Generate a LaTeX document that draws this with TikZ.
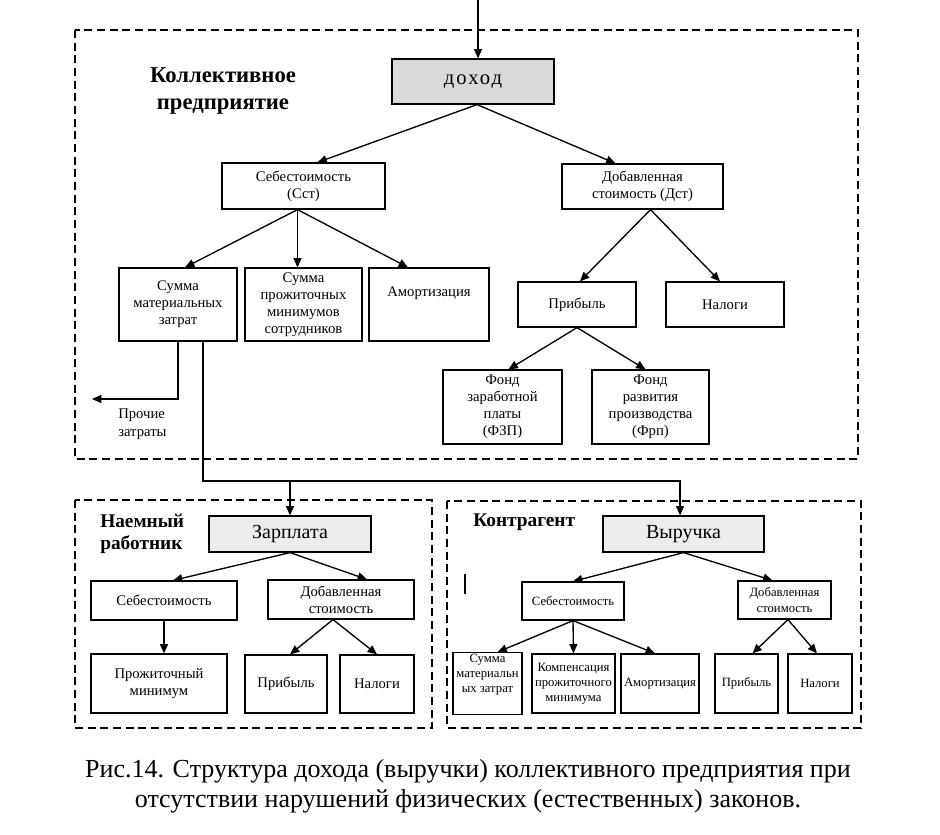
\documentclass[tikz,border=0pt]{standalone}
\usepackage{fontspec}
\setmainfont{Liberation Serif}
\usetikzlibrary{arrows.meta}
\tikzset{
  >={Triangle[length=7pt,width=6pt]},
  box/.style={draw, line width=0.9pt, align=center, inner sep=1pt, font=\fontsize{11}{12.8}\selectfont},
  smallbox/.style={box, font=\fontsize{9.5}{11.3}\selectfont},
  headbox/.style={box, fill=gray!15, font=\fontsize{15}{17}\selectfont},
  area/.style={draw, line width=1.4pt, dash pattern=on 6pt off 3.5pt},
  link/.style={->, line width=1pt},
  title/.style={font=\fontsize{14.5}{17}\selectfont\bfseries, align=left, anchor=west, inner sep=0pt},
}
\begin{document}
\begin{tikzpicture}[x=0.75pt,y=-0.75pt]
  \useasboundingbox[fill=white] (0,0) rectangle (940,835);
  % panels
  \draw[area] (75,30) rectangle (858,459);
  \draw[area] (75,500) rectangle (432,728);
  \draw[area] (447,501) rectangle (861,728);
  \node[font=\fontsize{17}{20.25}\selectfont\bfseries, align=center] (kp) at (223,91) {Коллективное\\предприятие};
  \node[title] (nr) at (100,534) {Наемный\\работник};
  \node[title] (ka) at (473,522) {Контрагент};
  % top part
  \node[box, fill=gray!30, minimum width=121.5pt, minimum height=33.75pt,
        font=\fontsize{15.5}{17}\selectfont\addfontfeature{LetterSpace=10}] (dohod) at (473,81.5) {доход};
  \node[box, minimum width=122.25pt, minimum height=34.5pt] (sst) at (303.5,186) {Себестоимость\\(Сст)};
  \node[box, minimum width=120.75pt, minimum height=33.75pt] (dst) at (642.5,186.5) {Добавленная\\стоимость (Дст)};
  \node[box, minimum width=88.5pt, minimum height=54.75pt] (smz) at (178,304.5) {Сумма\\материальных\\затрат};
  \node[box, minimum width=87.75pt, minimum height=54.75pt] (spm) at (303.5,304.5) {Сумма\\прожиточных\\минимумов\\сотрудников};
  \node[box, minimum width=90pt, minimum height=54.75pt] (amort) at (429,304.5) {Амортизация\\[6pt]};
  \node[box, minimum width=88.5pt, minimum height=33.75pt] (prib) at (577,304.5) {Прибыль};
  \node[box, minimum width=88.5pt, minimum height=33.75pt] (nal) at (725,304.5) {Налоги};
  \node[box, minimum width=89.25pt, minimum height=55.5pt] (fzp) at (502.5,407) {Фонд\\заработной\\платы\\(ФЗП)};
  \node[box, minimum width=87.75pt, minimum height=55.5pt] (frp) at (650.5,407) {Фонд\\развития\\производства\\(Фрп)};
  \node[font=\fontsize{11}{13.5}\selectfont, align=left, anchor=west, inner sep=0pt] (proch) at (118,424) {Прочие\\затраты};
  \coordinate (vhod) at (478,0);
  \coordinate (pz) at (92,399);
  \coordinate (bus) at (0,481);
  \draw[link] (vhod) -- (vhod |- dohod.north);
  \draw[link] ([xshift=3pt]dohod.south) -- ([xshift=10.5pt]sst.north);
  \draw[link] ([xshift=3pt]dohod.south) -- ([xshift=-20.25pt]dst.north);
  \draw[link] ([xshift=-4.5pt]sst.south) -- ([xshift=5.25pt]smz.north);
  \draw[link] ([xshift=-4.5pt]sst.south) -- ([xshift=-4.5pt]spm.north);
  \draw[link] ([xshift=-4.5pt]sst.south) -- ([xshift=-15.75pt]amort.north);
  \draw[link] ([xshift=6pt]dst.south) -- ([xshift=2.25pt]prib.north);
  \draw[link] ([xshift=6pt]dst.south) -- ([xshift=-3.75pt]nal.north);
  \draw[link] (prib.south) -- ([xshift=4.5pt]fzp.north);
  \draw[link] (prib.south) -- ([xshift=-3.75pt]frp.north);
  \draw[link] (smz.south) |- (pz);
  % wage earner
  \node[headbox, minimum width=121.5pt, minimum height=27pt] (zarp) at (290,534) {Зарплата};
  \node[box, minimum width=109.5pt, minimum height=29.25pt] (lsst) at (164,600.5) {Себестоимость};
  \node[box, minimum width=109.5pt, minimum height=29.25pt] (ldst) at (341,599.5) {Добавленная\\стоимость};
  \node[box, minimum width=102pt, minimum height=44.25pt] (lpm) at (159,683.5) {Прожиточный\\минимум};
  \node[box, minimum width=61.5pt, minimum height=43.5pt] (lprib) at (286,684) {Прибыль};
  \node[box, minimum width=55.5pt, minimum height=43.5pt] (lnal) at (377,684) {Налоги};
  % counterparty
  \node[headbox, minimum width=120.75pt, minimum height=27pt] (vyr) at (683.5,534) {Выручка};
  \node[smallbox, minimum width=76.5pt, minimum height=28.5pt] (rsst) at (573,601) {Себестоимость};
  \node[smallbox, minimum width=69.75pt, minimum height=28.5pt] (rdst) at (784.5,600) {Добавленная\\стоимость};
  \node[smallbox, minimum width=51.75pt, minimum height=44.25pt] (rsmz) at (487.5,683.5) {Сумма\\материальн\\ых затрат\\[4pt]};
  \node[smallbox, minimum width=62.25pt, minimum height=44.25pt] (rkpm) at (573.5,683.5) {Компенсация\\прожиточного\\минимума};
  \node[smallbox, minimum width=58.5pt, minimum height=44.25pt] (ramort) at (660,683.5) {Амортизация};
  \node[smallbox, minimum width=47.25pt, minimum height=44.25pt] (rprib) at (746.5,683.5) {Прибыль};
  \node[smallbox, minimum width=48pt, minimum height=44.25pt] (rnal) at (820,683.5) {Налоги};
  \coordinate (bar) at (465,574);
  \draw[line width=1pt] (bar) -- ++(0,20);
  % transfer from material costs
  \draw[link] ([xshift=18.75pt]smz.south) |- ([xshift=-2.6pt]bus -| vyr.north) -- ([xshift=-2.6pt]vyr.north);
  \draw[link] (bus -| zarp.north) -- (zarp.north);
  \draw[link] (zarp.south) -- ([xshift=6.75pt]lsst.north);
  \draw[link] (zarp.south) -- ([xshift=19.5pt]ldst.north);
  \draw[link] (lsst.south) -- (lsst.south |- lpm.north);
  \draw[link] ([xshift=-6pt]ldst.south) -- ([xshift=3pt]lprib.north);
  \draw[link] ([xshift=-6pt]ldst.south) -- (lnal.north);
  \draw[link] (vyr.south) -- (rsst.north);
  \draw[link] (vyr.south) -- ([xshift=-9pt]rdst.north);
  \draw[link] (rsst.south) -- ([xshift=7.5pt]rsmz.north);
  \draw[link] (rsst.south) -- (rkpm.north);
  \draw[link] (rsst.south) -- ([xshift=-3.75pt]ramort.north);
  \draw[link] ([xshift=2.6pt]rdst.south) -- ([xshift=4.5pt]rprib.north);
  \draw[link] ([xshift=2.6pt]rdst.south) -- ([xshift=-2.25pt]rnal.north);
  % caption
  \node[font=\fontsize{19.5}{22.5}\selectfont, align=center] (cap) at (468,786)
    {Рис.14. Структура дохода (выручки) коллективного предприятия при\\
     отсутствии нарушений физических (естественных) законов.};
\end{tikzpicture}
\end{document}
